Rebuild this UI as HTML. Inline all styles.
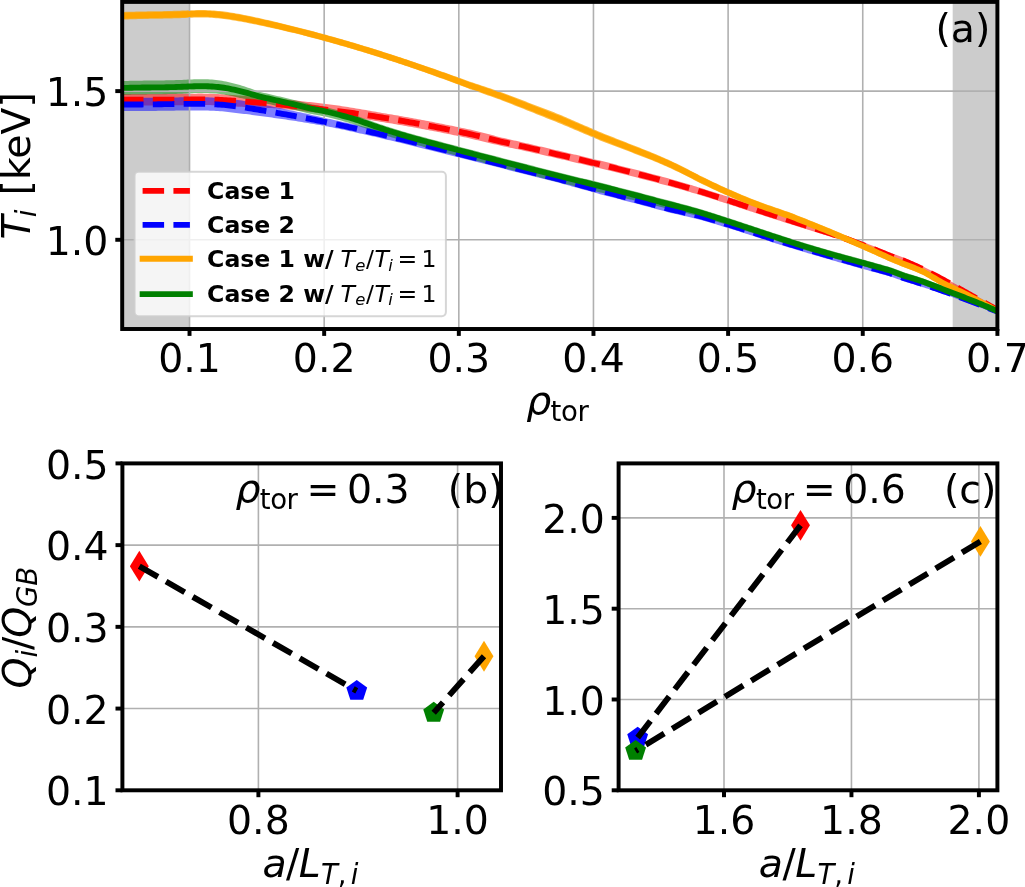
<!DOCTYPE html>
<html lang="en"><head><meta charset="utf-8"><title>figure</title>
<style>html,body{margin:0;padding:0;background:#fff;overflow:hidden}svg{display:block}</style></head>
<body>
<svg width="1025" height="887" viewBox="0 0 1025 887" font-family='"DejaVu Sans", "Liberation Sans", sans-serif' fill="#000">
<rect width="1025" height="887" fill="#fff"/>
<defs>
<clipPath id="ca"><rect x="122.2" y="1.9" width="875.2" height="327.1"/></clipPath>
<clipPath id="cb"><rect x="122.4" y="463.4" width="378.6" height="326.9"/></clipPath>
<clipPath id="cc"><rect x="618.6" y="463.4" width="378.8" height="326.9"/></clipPath>
</defs>
<rect x="122.2" y="1.9" width="67.32" height="327.1" fill="#808080" fill-opacity="0.4"/>
<rect x="952.7" y="1.9" width="44.7" height="327.1" fill="#808080" fill-opacity="0.4"/>
<g clip-path="url(#ca)">
<polygon points="122,93.9 124,93.9 126,93.9 128,93.9 130,93.91 132,93.91 134,93.91 136,93.91 138,93.91 140,93.91 142,93.91 144,93.91 146,93.91 148,93.91 150,93.9 152,93.9 154,93.9 156,93.89 158,93.89 160,93.88 162,93.88 164,93.87 166,93.86 168,93.85 170,93.84 172,93.83 174,93.82 176,93.81 178,93.79 180,93.78 182,93.76 184,93.74 186,93.73 188,93.71 190,93.69 192,93.66 194,93.64 196,93.63 198,93.62 200,93.61 202,93.61 204,93.63 206,93.66 208,93.7 210,93.75 212,93.82 214,93.89 216,93.98 218,94.08 220,94.18 222,94.29 224,94.41 226,94.54 228,94.67 230,94.81 232,94.95 234,95.09 236,95.24 238,95.38 240,95.53 242,95.68 244,95.84 246,95.99 248,96.15 250,96.31 252,96.47 254,96.64 256,96.8 258,96.97 260,97.14 262,97.31 264,97.49 266,97.66 268,97.84 270,98.02 272,98.21 274,98.39 276,98.58 278,98.77 280,98.96 282,99.15 284,99.35 286,99.55 288,99.75 290,99.95 292,100.16 294,100.37 296,100.58 298,100.79 300,101 302,101.22 304,101.44 306,101.66 308,101.89 310,102.11 312,102.34 314,102.58 316,102.81 318,103.05 320,103.29 322,103.53 324,103.78 326,104.02 328,104.27 330,104.52 332,104.78 334,105.04 336,105.3 338,105.56 340,105.83 342,106.14 344,106.45 346,106.77 348,107.09 350,107.41 352,107.73 354,108.06 356,108.39 358,108.72 360,109.06 362,109.39 364,109.74 366,110.08 368,110.43 370,110.78 372,111.13 374,111.48 376,111.84 378,112.2 380,112.57 382,112.89 384,113.22 386,113.55 388,113.88 390,114.22 392,114.56 394,114.9 396,115.25 398,115.59 400,115.94 402,116.29 404,116.65 406,117 408,117.36 410,117.73 412,118.09 414,118.46 416,118.83 418,119.2 420,119.57 422,119.95 424,120.33 426,120.71 428,121.09 430,121.47 432,121.86 434,122.25 436,122.64 438,123.04 440,123.43 442,123.83 444,124.23 446,124.64 448,125.04 450,125.45 452,125.86 454,126.27 456,126.68 458,127.09 460,127.51 462,127.93 464,128.35 466,128.77 468,129.2 470,129.62 472,130.1 474,130.59 476,131.07 478,131.56 480,132.05 482,132.55 484,133.06 486,133.57 488,134.08 490,134.59 492,135.11 494,135.62 496,136.14 498,136.66 500,137.18 502,137.64 504,138.09 506,138.55 508,139.01 510,139.47 512,139.94 514,140.4 516,140.87 518,141.33 520,141.8 522,142.25 524,142.71 526,143.16 528,143.62 530,144.08 532,144.54 534,145 536,145.46 538,145.92 540,146.39 542,146.85 544,147.32 546,147.78 548,148.25 550,148.72 552,149.19 554,149.66 556,150.14 558,150.61 560,151.08 562,151.55 564,152.02 566,152.49 568,152.96 570,153.43 572,153.91 574,154.38 576,154.85 578,155.33 580,155.8 582,156.28 584,156.76 586,157.23 588,157.71 590,158.19 592,158.67 594,159.15 596,159.63 598,160.11 600,160.59 602,161.1 604,161.6 606,162.1 608,162.61 610,163.11 612,163.61 614,164.12 616,164.62 618,165.13 620,165.64 622,166.15 624,166.66 626,167.17 628,167.68 630,168.19 632,168.71 634,169.22 636,169.74 638,170.26 640,170.78 642,171.3 644,171.83 646,172.36 648,172.89 650,173.42 652,173.96 654,174.49 656,175.03 658,175.58 660,176.12 662,176.67 664,177.22 666,177.77 668,178.33 670,178.89 672,179.46 674,180.02 676,180.59 678,181.17 680,181.75 682,182.33 684,182.91 686,183.5 688,184.1 690,184.69 692,185.3 694,185.9 696,186.51 698,187.13 700,187.75 702,188.37 704,189 706,189.63 708,190.27 710,190.91 712,191.55 714,192.2 716,192.85 718,193.5 720,194.15 722,194.81 724,195.46 726,196.12 728,196.78 730,197.44 732,198.11 734,198.77 736,199.43 738,200.1 740,200.76 742,201.42 744,202.09 746,202.75 748,203.41 750,204.07 752,204.73 754,205.39 756,206.05 758,206.7 760,207.36 762,208.01 764,208.66 766,209.32 768,209.97 770,210.62 772,211.27 774,211.92 776,212.57 778,213.21 780,213.86 782,214.51 784,215.16 786,215.81 788,216.46 790,217.11 792,217.75 794,218.4 796,219.05 798,219.69 800,220.34 802,220.98 804,221.63 806,222.27 808,222.92 810,223.56 812,224.21 814,224.85 816,225.49 818,226.14 820,226.78 822,227.43 824,228.07 826,228.72 828,229.37 830,230.02 832,230.67 834,231.32 836,232.01 838,232.72 840,233.44 842,234.17 844,234.89 846,235.62 848,236.36 850,237.09 852,237.84 854,238.58 856,239.33 858,240.09 860,240.85 862,241.62 864,242.37 866,243.12 868,243.88 870,244.65 872,245.43 874,246.21 876,246.99 878,247.79 880,248.59 882,249.4 884,250.22 886,251.05 888,251.89 890,252.73 892,253.43 894,254.14 896,254.86 898,255.58 900,256.32 902,257.08 904,257.85 906,258.67 908,259.54 910,260.43 912,261.32 914,262.23 916,263.15 918,264.08 920,265.02 922,265.98 924,266.95 926,267.95 928,268.98 930,270.03 932,271.08 934,272.15 936,273.23 938,274.31 940,275.4 942,276.5 944,277.61 946,278.72 948,279.84 950,280.96 952,282.09 954,283.22 956,284.36 958,285.49 960,286.63 962,287.77 964,288.91 966,290.05 968,291.19 970,292.33 972,293.46 974,294.59 976,295.72 978,296.85 980,297.97 982,299.09 984,300.22 986,301.35 988,302.48 990,303.63 992,304.79 994,305.96 996,307.16 997.4,308 997.4,312 996,311.18 994,310.03 992,308.89 990,307.77 988,306.67 986,305.57 984,304.49 982,303.4 980,302.32 978,301.24 976,300.16 974,299.07 972,297.98 970,296.88 968,295.79 966,294.69 964,293.59 962,292.49 960,291.39 958,290.3 956,289.2 954,288.11 952,287.02 950,285.93 948,284.85 946,283.77 944,282.7 942,281.64 940,280.58 938,279.53 936,278.48 934,277.45 932,276.42 930,275.41 928,274.41 926,273.41 924,272.45 922,271.52 920,270.61 918,269.71 916,268.82 914,267.94 912,267.07 910,266.22 908,265.38 906,264.55 904,263.77 902,263.04 900,262.32 898,261.6 896,260.89 894,260.19 892,259.5 890,258.82 888,257.99 886,257.17 884,256.36 882,255.55 880,254.76 878,253.97 876,253.19 874,252.42 872,251.66 870,250.9 868,250.15 866,249.41 864,248.67 862,247.94 860,247.19 858,246.44 856,245.7 854,244.97 852,244.24 850,243.51 848,242.79 846,242.07 844,241.36 842,240.65 840,239.94 838,239.24 836,238.54 834,237.87 832,237.23 830,236.6 828,235.97 826,235.34 824,234.71 822,234.08 820,233.45 818,232.82 816,232.19 814,231.57 812,230.94 810,230.31 808,229.68 806,229.06 804,228.43 802,227.8 800,227.17 798,226.54 796,225.91 794,225.28 792,224.65 790,224.02 788,223.39 786,222.76 784,222.13 782,221.49 780,220.86 778,220.22 776,219.58 774,218.94 772,218.3 770,217.66 768,217.02 766,216.38 764,215.73 762,215.09 760,214.44 758,213.8 756,213.15 754,212.5 752,211.85 750,211.2 748,210.55 746,209.9 744,209.24 742,208.59 740,207.93 738,207.28 736,206.62 734,205.97 732,205.31 730,204.66 728,204.01 726,203.35 724,202.7 722,202.06 720,201.41 718,200.76 716,200.12 714,199.48 712,198.84 710,198.21 708,197.58 706,196.95 704,196.33 702,195.71 700,195.09 698,194.48 696,193.87 694,193.27 692,192.67 690,192.08 688,191.49 686,190.91 684,190.32 682,189.75 680,189.17 678,188.6 676,188.04 674,187.48 672,186.92 670,186.36 668,185.81 666,185.26 664,184.72 662,184.17 660,183.63 658,183.1 656,182.56 654,182.03 652,181.5 650,180.98 648,180.45 646,179.93 644,179.41 642,178.9 640,178.38 638,177.87 636,177.35 634,176.84 632,176.33 630,175.82 628,175.32 626,174.81 624,174.31 622,173.81 620,173.31 618,172.8 616,172.3 614,171.81 612,171.31 610,170.81 608,170.31 606,169.82 604,169.32 602,168.82 600,168.33 598,167.85 596,167.38 594,166.9 592,166.43 590,165.96 588,165.49 586,165.01 584,164.54 582,164.07 580,163.6 578,163.13 576,162.67 574,162.2 572,161.73 570,161.27 568,160.8 566,160.34 564,159.87 562,159.41 560,158.95 558,158.48 556,158.02 554,157.55 552,157.09 550,156.62 548,156.16 546,155.7 544,155.24 542,154.78 540,154.32 538,153.86 536,153.41 534,152.95 532,152.5 530,152.05 528,151.59 526,151.14 524,150.7 522,150.25 520,149.8 518,149.37 516,148.95 514,148.52 512,148.1 510,147.67 508,147.25 506,146.83 504,146.41 502,146 500,145.58 498,145.1 496,144.62 494,144.14 492,143.67 490,143.19 488,142.72 486,142.25 484,141.78 482,141.31 480,140.85 478,140.36 476,139.88 474,139.4 472,138.93 470,138.45 468,138.03 466,137.61 464,137.2 462,136.78 460,136.37 458,135.96 456,135.55 454,135.14 452,134.74 450,134.34 448,133.94 446,133.54 444,133.14 442,132.75 440,132.35 438,131.96 436,131.58 434,131.19 432,130.81 430,130.42 428,130.05 426,129.67 424,129.29 422,128.92 420,128.55 418,128.18 416,127.82 414,127.45 412,127.09 410,126.74 408,126.38 406,126.03 404,125.68 402,125.33 400,124.98 398,124.64 396,124.3 394,123.96 392,123.62 390,123.29 388,122.96 386,122.63 384,122.31 382,121.99 380,121.67 378,121.33 376,121 374,120.67 372,120.35 370,120.03 368,119.71 366,119.39 364,119.08 362,118.76 360,118.46 358,118.15 356,117.85 354,117.55 352,117.25 350,116.96 348,116.67 346,116.38 344,116.09 342,115.81 340,115.53 338,115.26 336,115 334,114.75 332,114.49 330,114.24 328,113.99 326,113.74 324,113.5 322,113.26 320,113.02 318,112.78 316,112.54 314,112.31 312,112.08 310,111.86 308,111.63 306,111.41 304,111.19 302,110.97 300,110.76 298,110.55 296,110.34 294,110.13 292,109.92 290,109.72 288,109.52 286,109.32 284,109.13 282,108.93 280,108.74 278,108.55 276,108.37 274,108.22 272,108.12 270,108.02 268,107.92 266,107.82 264,107.73 262,107.64 260,107.55 258,107.46 256,107.38 254,107.29 252,107.21 250,107.13 248,107.06 246,106.98 244,106.91 242,106.84 240,106.77 238,106.63 236,106.49 234,106.35 232,106.21 230,106.08 228,105.95 226,105.82 224,105.7 222,105.59 220,105.48 218,105.38 216,105.29 214,105.21 212,105.14 210,105.08 208,105.03 206,105 204,104.98 202,104.97 200,104.97 198,104.98 196,105 194,105.02 192,105.05 190,105.08 188,105.1 186,105.13 184,105.15 182,105.18 180,105.2 178,105.22 176,105.24 174,105.26 172,105.28 170,105.29 168,105.31 166,105.33 164,105.34 162,105.35 160,105.37 158,105.38 156,105.39 154,105.4 152,105.41 150,105.42 148,105.43 146,105.43 144,105.44 142,105.45 140,105.46 138,105.46 136,105.47 134,105.47 132,105.48 130,105.48 128,105.49 126,105.49 124,105.49 122,105.5" fill="#ff0000" fill-opacity="0.5"/>
<polygon points="122,97.9 124,97.91 126,97.91 128,97.92 130,97.92 132,97.91 134,97.91 136,97.9 138,97.89 140,97.87 142,97.86 144,97.84 146,97.82 148,97.8 150,97.77 152,97.75 154,97.72 156,97.7 158,97.67 160,97.64 162,97.61 164,97.58 166,97.55 168,97.52 170,97.5 172,97.47 174,97.44 176,97.41 178,97.38 180,97.36 182,97.33 184,97.31 186,97.29 188,97.27 190,97.25 192,97.23 194,97.22 196,97.21 198,97.21 200,97.22 202,97.24 204,97.27 206,97.32 208,97.37 210,97.44 212,97.53 214,97.63 216,97.74 218,97.87 220,98.02 222,98.17 224,98.35 226,98.54 228,98.74 230,98.96 232,99.19 234,99.43 236,99.69 238,99.95 240,100.23 242,100.58 244,100.94 246,101.31 248,101.68 250,102.06 252,102.45 254,102.84 256,103.24 258,103.63 260,104.04 262,104.44 264,104.85 266,105.25 268,105.66 270,106.06 272,106.47 274,106.88 276,107.29 278,107.7 280,108.11 282,108.52 284,108.94 286,109.36 288,109.78 290,110.2 292,110.61 294,111.03 296,111.45 298,111.88 300,112.31 302,112.74 304,113.17 306,113.61 308,114.05 310,114.5 312,114.94 314,115.39 316,115.85 318,116.3 320,116.76 322,117.22 324,117.69 326,118.16 328,118.63 330,119.1 332,119.53 334,119.95 336,120.38 338,120.82 340,121.25 342,121.69 344,122.13 346,122.58 348,123.02 350,123.47 352,123.92 354,124.37 356,124.82 358,125.28 360,125.74 362,126.2 364,126.66 366,127.13 368,127.59 370,128.06 372,128.53 374,129.01 376,129.48 378,129.96 380,130.43 382,130.91 384,131.39 386,131.88 388,132.36 390,132.85 392,133.33 394,133.82 396,134.31 398,134.8 400,135.29 402,135.79 404,136.28 406,136.78 408,137.28 410,137.78 412,138.28 414,138.78 416,139.28 418,139.78 420,140.29 422,140.79 424,141.3 426,141.8 428,142.31 430,142.82 432,143.33 434,143.83 436,144.34 438,144.86 440,145.37 442,145.88 444,146.39 446,146.9 448,147.41 450,147.93 452,148.44 454,148.95 456,149.47 458,149.98 460,150.5 462,151.01 464,151.52 466,152.03 468,152.54 470,153.05 472,153.56 474,154.07 476,154.58 478,155.09 480,155.6 482,156.11 484,156.62 486,157.13 488,157.64 490,158.15 492,158.66 494,159.17 496,159.68 498,160.18 500,160.69 502,161.2 504,161.71 506,162.22 508,162.73 510,163.24 512,163.75 514,164.25 516,164.76 518,165.27 520,165.78 522,166.29 524,166.8 526,167.31 528,167.82 530,168.33 532,168.83 534,169.34 536,169.85 538,170.36 540,170.87 542,171.38 544,171.89 546,172.4 548,172.91 550,173.42 552,173.94 554,174.45 556,174.96 558,175.47 560,175.98 562,176.53 564,177.09 566,177.64 568,178.19 570,178.75 572,179.3 574,179.85 576,180.41 578,180.96 580,181.52 582,182.07 584,182.63 586,183.18 588,183.74 590,184.3 592,184.86 594,185.41 596,185.97 598,186.53 600,187.09 602,187.61 604,188.13 606,188.65 608,189.17 610,189.69 612,190.22 614,190.74 616,191.26 618,191.79 620,192.31 622,192.84 624,193.36 626,193.89 628,194.42 630,194.95 632,195.47 634,196 636,196.53 638,197.06 640,197.59 642,198.13 644,198.66 646,199.19 648,199.73 650,200.26 652,200.8 654,201.34 656,201.87 658,202.41 660,202.96 662,203.5 664,204.04 666,204.59 668,205.14 670,205.68 672,206.14 674,206.6 676,207.06 678,207.52 680,207.99 682,208.46 684,208.92 686,209.4 688,209.87 690,210.35 692,210.82 694,211.3 696,211.79 698,212.27 700,212.76 702,213.33 704,213.91 706,214.49 708,215.07 710,215.65 712,216.24 714,216.83 716,217.42 718,218.02 720,218.62 722,219.22 724,219.83 726,220.44 728,221.06 730,221.67 732,222.3 734,222.92 736,223.55 738,224.18 740,224.82 742,225.46 744,226.11 746,226.76 748,227.41 750,228.06 752,228.71 754,229.37 756,230.03 758,230.69 760,231.34 762,232 764,232.66 766,233.31 768,233.96 770,234.61 772,235.26 774,235.9 776,236.54 778,237.18 780,237.81 782,238.44 784,239.06 786,239.67 788,240.29 790,240.89 792,241.5 794,242.09 796,242.69 798,243.28 800,243.86 802,244.48 804,245.09 806,245.7 808,246.3 810,246.9 812,247.5 814,248.1 816,248.69 818,249.28 820,249.87 822,250.46 824,251.04 826,251.62 828,252.2 830,252.78 832,253.36 834,253.94 836,254.52 838,255.09 840,255.67 842,256.24 844,256.82 846,257.39 848,257.96 850,258.54 852,259.11 854,259.69 856,260.26 858,260.84 860,261.41 862,262 864,262.56 866,263.12 868,263.68 870,264.24 872,264.81 874,265.37 876,265.94 878,266.51 880,267.08 882,267.66 884,268.23 886,268.81 888,269.4 890,269.98 892,270.7 894,271.41 896,272.13 898,272.85 900,273.57 902,274.3 904,275.03 906,275.72 908,276.35 910,276.99 912,277.63 914,278.27 916,278.93 918,279.58 920,280.24 922,280.9 924,281.57 926,282.25 928,282.92 930,283.61 932,284.3 934,284.99 936,285.69 938,286.39 940,287.1 942,287.82 944,288.54 946,289.27 948,290 950,290.73 952,291.47 954,292.22 956,292.97 958,293.72 960,294.48 962,295.24 964,296 966,296.77 968,297.53 970,298.3 972,299.08 974,299.85 976,300.63 978,301.41 980,302.19 982,302.97 984,303.75 986,304.53 988,305.32 990,306.1 992,306.88 994,307.67 996,308.45 997.4,308.99 997.4,313.99 996,313.46 994,312.71 992,311.95 990,311.19 988,310.44 986,309.68 984,308.92 982,308.17 980,307.41 978,306.66 976,305.91 974,305.15 972,304.41 970,303.66 968,302.91 966,302.17 964,301.43 962,300.7 960,299.96 958,299.23 956,298.51 954,297.78 952,297.07 950,296.35 948,295.64 946,294.94 944,294.24 942,293.54 940,292.85 938,292.17 936,291.49 934,290.82 932,290.15 930,289.49 928,288.83 926,288.18 924,287.53 922,286.89 920,286.25 918,285.62 916,284.99 914,284.37 912,283.75 910,283.13 908,282.52 906,281.91 904,281.26 902,280.55 900,279.85 898,279.15 896,278.45 894,277.76 892,277.08 890,276.39 888,275.83 886,275.27 884,274.72 882,274.17 880,273.62 878,273.07 876,272.53 874,271.99 872,271.45 870,270.91 868,270.37 866,269.84 864,269.31 862,268.78 860,268.21 858,267.64 856,267.06 854,266.49 852,265.92 850,265.35 848,264.78 846,264.2 844,263.63 842,263.06 840,262.49 838,261.91 836,261.34 834,260.77 832,260.19 830,259.61 828,259.04 826,258.46 824,257.88 822,257.29 820,256.71 818,256.12 816,255.53 814,254.94 812,254.35 810,253.75 808,253.15 806,252.55 804,251.95 802,251.34 800,250.72 798,250.14 796,249.55 794,248.96 792,248.36 790,247.76 788,247.16 786,246.55 784,245.93 782,245.31 780,244.69 778,244.06 776,243.43 774,242.79 772,242.15 770,241.5 768,240.85 766,240.2 764,239.55 762,238.9 760,238.24 758,237.59 756,236.93 754,236.28 752,235.62 750,234.97 748,234.32 746,233.67 744,233.02 742,232.38 740,231.74 738,231.11 736,230.47 734,229.85 732,229.22 730,228.6 728,227.99 726,227.38 724,226.77 722,226.16 720,225.56 718,224.96 716,224.37 714,223.78 712,223.19 710,222.6 708,222.02 706,221.44 704,220.87 702,220.29 700,219.72 698,219.23 696,218.75 694,218.27 692,217.79 690,217.32 688,216.84 686,216.37 684,215.9 682,215.43 680,214.97 678,214.51 676,214.05 674,213.59 672,213.13 670,212.67 668,212.13 666,211.58 664,211.04 662,210.5 660,209.96 658,209.42 656,208.88 654,208.34 652,207.81 650,207.27 648,206.74 646,206.21 644,205.67 642,205.14 640,204.61 638,204.09 636,203.56 634,203.03 632,202.5 630,201.98 628,201.45 626,200.92 624,200.4 622,199.88 620,199.35 618,198.83 616,198.31 614,197.79 612,197.27 610,196.74 608,196.23 606,195.71 604,195.19 602,194.67 600,194.15 598,193.59 596,193.04 594,192.48 592,191.92 590,191.37 588,190.81 586,190.26 584,189.7 582,189.15 580,188.6 578,188.04 576,187.49 574,186.94 572,186.39 570,185.84 568,185.28 566,184.73 564,184.18 562,183.63 560,183.08 558,182.57 556,182.06 554,181.55 552,181.04 550,180.53 548,180.03 546,179.52 544,179.01 542,178.5 540,177.99 538,177.49 536,176.98 534,176.47 532,175.96 530,175.46 528,174.95 526,174.44 524,173.93 522,173.43 520,172.92 518,172.41 516,171.91 514,171.4 512,170.89 510,170.39 508,169.88 506,169.37 504,168.87 502,168.36 500,167.85 498,167.35 496,166.84 494,166.33 492,165.83 490,165.32 488,164.81 486,164.3 484,163.8 482,163.29 480,162.78 478,162.27 476,161.77 474,161.26 472,160.75 470,160.24 468,159.73 466,159.22 464,158.71 462,158.21 460,157.7 458,157.19 456,156.69 454,156.18 452,155.68 450,155.17 448,154.67 446,154.17 444,153.66 442,153.16 440,152.66 438,152.16 436,151.66 434,151.15 432,150.65 430,150.16 428,149.66 426,149.16 424,148.66 422,148.17 420,147.67 418,147.18 416,146.68 414,146.19 412,145.7 410,145.21 408,144.72 406,144.23 404,143.74 402,143.26 400,142.77 398,142.29 396,141.81 394,141.33 392,140.85 390,140.37 388,139.89 386,139.42 384,138.94 382,138.47 380,138 378,137.53 376,137.07 374,136.6 372,136.14 370,135.68 368,135.22 366,134.76 364,134.31 362,133.85 360,133.4 358,132.95 356,132.5 354,132.06 352,131.62 350,131.18 348,130.74 346,130.3 344,129.87 342,129.44 340,129.01 338,128.58 336,128.16 334,127.74 332,127.32 330,126.9 328,126.54 326,126.18 324,125.82 322,125.46 320,125.11 318,124.76 316,124.42 314,124.07 312,123.73 310,123.4 308,123.06 306,122.73 304,122.4 302,122.08 300,121.76 298,121.44 296,121.12 294,120.81 292,120.5 290,120.2 288,119.9 286,119.61 284,119.32 282,119.04 280,118.75 278,118.47 276,118.18 274,117.9 272,117.62 270,117.34 268,117.07 266,116.79 264,116.51 262,116.23 260,115.96 258,115.68 256,115.41 254,115.14 252,114.88 250,114.62 248,114.37 246,114.12 244,113.88 242,113.65 240,113.43 238,113.15 236,112.89 234,112.63 232,112.39 230,112.16 228,111.94 226,111.74 224,111.55 222,111.37 220,111.22 218,111.07 216,110.94 214,110.83 212,110.73 210,110.64 208,110.57 206,110.52 204,110.47 202,110.44 200,110.42 198,110.41 196,110.41 194,110.42 192,110.43 190,110.45 188,110.47 186,110.49 184,110.51 182,110.53 180,110.56 178,110.58 176,110.61 174,110.64 172,110.67 170,110.7 168,110.72 166,110.75 164,110.78 162,110.81 160,110.84 158,110.87 156,110.9 154,110.92 152,110.95 150,110.97 148,111 146,111.02 144,111.04 142,111.06 140,111.07 138,111.09 136,111.1 134,111.11 132,111.11 130,111.12 128,111.12 126,111.11 124,111.11 122,111.1" fill="#0000ff" fill-opacity="0.5"/>
<polygon points="122,12.02 124,11.94 126,11.87 128,11.8 130,11.74 132,11.68 134,11.63 136,11.58 138,11.54 140,11.49 142,11.46 144,11.42 146,11.39 148,11.35 150,11.32 152,11.29 154,11.26 156,11.23 158,11.2 160,11.16 162,11.13 164,11.09 166,11.05 168,11.01 170,10.96 172,10.91 174,10.85 176,10.79 178,10.73 180,10.66 182,10.58 184,10.5 186,10.42 188,10.34 190,10.26 192,10.19 194,10.13 196,10.08 198,10.04 200,10.02 202,10.03 204,10.05 206,10.1 208,10.17 210,10.27 212,10.39 214,10.53 216,10.7 218,10.89 220,11.09 222,11.32 224,11.57 226,11.83 228,12.11 230,12.4 232,12.72 234,13.04 236,13.38 238,13.73 240,14.09 242,14.48 244,14.88 246,15.28 248,15.69 250,16.11 252,16.54 254,16.97 256,17.41 258,17.85 260,18.3 262,18.75 264,19.2 266,19.66 268,20.12 270,20.58 272,21.05 274,21.52 276,22 278,22.48 280,22.96 282,23.45 284,23.93 286,24.43 288,24.92 290,25.43 292,25.93 294,26.44 296,26.95 298,27.46 300,27.98 302,28.49 304,29 306,29.51 308,30.03 310,30.55 312,31.08 314,31.61 316,32.14 318,32.67 320,33.21 322,33.76 324,34.3 326,34.85 328,35.4 330,35.96 332,36.51 334,37.08 336,37.64 338,38.21 340,38.78 342,39.35 344,39.93 346,40.51 348,41.1 350,41.68 352,42.27 354,42.87 356,43.46 358,44.06 360,44.67 362,45.27 364,45.88 366,46.49 368,47.11 370,47.72 372,48.35 374,48.97 376,49.6 378,50.22 380,50.86 382,51.49 384,52.13 386,52.77 388,53.42 390,54.06 392,54.71 394,55.37 396,56.02 398,56.68 400,57.34 402,58 404,58.67 406,59.34 408,60.01 410,60.69 412,61.36 414,62.04 416,62.73 418,63.41 420,64.1 422,64.77 424,65.45 426,66.13 428,66.81 430,67.5 432,68.18 434,68.87 436,69.56 438,70.26 440,70.96 442,71.66 444,72.36 446,73.06 448,73.77 450,74.48 452,75.19 454,75.91 456,76.62 458,77.34 460,78.06 462,78.79 464,79.51 466,80.24 468,80.97 470,81.7 472,82.36 474,83.01 476,83.67 478,84.33 480,85 482,85.66 484,86.33 486,87 488,87.67 490,88.34 492,89.01 494,89.69 496,90.36 498,91.04 500,91.72 502,92.48 504,93.23 506,93.99 508,94.75 510,95.51 512,96.27 514,97.04 516,97.8 518,98.56 520,99.33 522,100.09 524,100.86 526,101.62 528,102.39 530,103.16 532,103.92 534,104.69 536,105.46 538,106.23 540,106.99 542,107.76 544,108.53 546,109.3 548,110.06 550,110.83 552,111.6 554,112.36 556,113.13 558,113.89 560,114.66 562,115.53 564,116.41 566,117.28 568,118.16 570,119.03 572,119.9 574,120.78 576,121.65 578,122.52 580,123.39 582,124.26 584,125.13 586,126 588,126.87 590,127.74 592,128.61 594,129.48 596,130.35 598,131.22 600,132.09 602,132.87 604,133.66 606,134.45 608,135.24 610,136.03 612,136.82 614,137.61 616,138.4 618,139.18 620,139.97 622,140.76 624,141.55 626,142.34 628,143.13 630,143.92 632,144.71 634,145.5 636,146.29 638,147.08 640,147.87 642,148.66 644,149.45 646,150.24 648,151.03 650,151.83 652,152.66 654,153.49 656,154.33 658,155.17 660,156.03 662,156.9 664,157.78 666,158.67 668,159.58 670,160.5 672,161.43 674,162.39 676,163.35 678,164.33 680,165.32 682,166.32 684,167.33 686,168.35 688,169.37 690,170.41 692,171.44 694,172.49 696,173.53 698,174.58 700,175.63 702,176.6 704,177.58 706,178.55 708,179.52 710,180.48 712,181.45 714,182.4 716,183.35 718,184.28 720,185.21 722,186.13 724,187.03 726,187.92 728,188.8 730,189.66 732,190.56 734,191.45 736,192.33 738,193.19 740,194.04 742,194.89 744,195.72 746,196.54 748,197.35 750,198.16 752,198.95 754,199.74 756,200.53 758,201.31 760,202.08 762,202.79 764,203.49 766,204.18 768,204.88 770,205.57 772,206.26 774,206.96 776,207.65 778,208.34 780,209.04 782,209.74 784,210.44 786,211.14 788,211.85 790,212.55 792,213.33 794,214.12 796,214.9 798,215.69 800,216.48 802,217.28 804,218.07 806,218.87 808,219.67 810,220.47 812,221.27 814,222.08 816,222.89 818,223.7 820,224.51 822,225.32 824,226.14 826,226.96 828,227.78 830,228.6 832,229.44 834,230.29 836,231.14 838,231.99 840,232.84 842,233.69 844,234.55 846,235.4 848,236.26 850,237.12 852,237.99 854,238.85 856,239.71 858,240.58 860,241.45 862,242.32 864,243.21 866,244.1 868,245 870,245.89 872,246.79 874,247.69 876,248.59 878,249.49 880,250.39 882,251.29 884,252.2 886,253.11 888,254.01 890,254.92 892,255.76 894,256.61 896,257.44 898,258.26 900,259.08 902,259.89 904,260.69 906,261.48 908,262.27 910,263.05 912,263.83 914,264.63 916,265.44 918,266.29 920,267.18 922,268.12 924,269.11 926,270.17 928,271.28 930,272.45 932,273.64 934,274.85 936,276.06 938,277.24 940,278.4 942,279.51 944,280.57 946,281.6 948,282.6 950,283.58 952,284.55 954,285.51 956,286.48 958,287.45 960,288.43 962,289.42 964,290.43 966,291.45 968,292.49 970,293.53 972,294.58 974,295.65 976,296.72 978,297.8 980,298.89 982,299.98 984,301.08 986,302.18 988,303.28 990,304.37 992,305.47 994,306.55 996,307.63 997.4,308.38 997.4,313.38 996,312.65 994,311.6 992,310.55 990,309.49 988,308.43 986,307.36 984,306.29 982,305.23 980,304.17 978,303.11 976,302.06 974,301.03 972,300 970,298.97 968,297.96 966,296.97 964,295.98 962,295 960,294.04 958,293.09 956,292.15 954,291.22 952,290.29 950,289.36 948,288.41 946,287.44 944,286.44 942,285.41 940,284.34 938,283.22 936,282.06 934,280.89 932,279.71 930,278.55 928,277.42 926,276.34 924,275.31 922,274.35 920,273.45 918,272.6 916,271.78 914,271 912,270.23 910,269.48 908,268.73 906,267.98 904,267.23 902,266.46 900,265.68 898,264.87 896,264.05 894,263.23 892,262.39 890,261.55 888,260.65 886,259.75 884,258.85 882,257.95 880,257.06 878,256.16 876,255.27 874,254.37 872,253.48 870,252.59 868,251.7 866,250.82 864,249.93 862,249.05 860,248.18 858,247.32 856,246.46 854,245.6 852,244.75 850,243.89 848,243.04 846,242.18 844,241.33 842,240.48 840,239.64 838,238.79 836,237.95 834,237.11 832,236.27 830,235.43 828,234.62 826,233.8 824,232.99 822,232.18 820,231.38 818,230.57 816,229.77 814,228.97 812,228.17 810,227.37 808,226.57 806,225.78 804,224.99 802,224.2 800,223.42 798,222.63 796,221.85 794,221.07 792,220.29 790,219.52 788,218.82 786,218.12 784,217.42 782,216.73 780,216.04 778,215.35 776,214.66 774,213.98 772,213.29 770,212.61 768,211.92 766,211.23 764,210.54 762,209.85 760,209.15 758,208.38 756,207.61 754,206.83 752,206.05 750,205.26 748,204.46 746,203.65 744,202.84 742,202.01 740,201.18 738,200.33 736,199.47 734,198.61 732,197.72 730,196.83 728,195.97 726,195.1 724,194.22 722,193.32 720,192.41 718,191.5 716,190.58 714,189.64 712,188.71 710,187.76 708,186.81 706,185.85 704,184.9 702,183.94 700,182.98 698,181.94 696,180.91 694,179.88 692,178.85 690,177.83 688,176.81 686,175.8 684,174.8 682,173.8 680,172.82 678,171.84 676,170.88 674,169.93 672,168.99 670,168.07 668,167.17 666,166.28 664,165.4 662,164.53 660,163.68 658,162.84 656,162.01 654,161.18 652,160.37 650,159.56 648,158.77 646,157.99 644,157.22 642,156.45 640,155.67 638,154.91 636,154.14 634,153.38 632,152.61 630,151.84 628,151.08 626,150.32 624,149.55 622,148.79 620,148.02 618,147.26 616,146.5 614,145.73 612,144.97 610,144.2 608,143.44 606,142.68 604,141.91 602,141.15 600,140.39 598,139.54 596,138.7 594,137.85 592,137.01 590,136.17 588,135.32 586,134.48 584,133.63 582,132.79 580,131.94 578,131.09 576,130.25 574,129.4 572,128.55 570,127.71 568,126.86 566,126.01 564,125.16 562,124.31 560,123.46 558,122.66 556,121.87 554,121.07 552,120.28 550,119.48 548,118.68 546,117.89 544,117.09 542,116.29 540,115.49 538,114.7 536,113.9 534,113.1 532,112.3 530,111.51 528,110.71 526,109.91 524,109.12 522,108.32 520,107.53 518,106.73 516,105.94 514,105.15 512,104.35 510,103.56 508,102.77 506,101.98 504,101.19 502,100.41 500,99.62 498,98.91 496,98.2 494,97.5 492,96.79 490,96.09 488,95.39 486,94.69 484,93.99 482,93.29 480,92.6 478,91.9 476,91.21 474,90.51 472,89.82 470,89.14 468,88.37 466,87.61 464,86.85 462,86.09 460,85.33 458,84.57 456,83.82 454,83.07 452,82.32 450,81.58 448,80.84 446,80.1 444,79.36 442,78.62 440,77.89 438,77.16 436,76.43 434,75.71 432,74.98 430,74.26 428,73.54 426,72.83 424,72.12 422,71.41 420,70.7 418,70.01 416,69.33 414,68.64 412,67.96 410,67.29 408,66.61 406,65.94 404,65.27 402,64.6 400,63.94 398,63.28 396,62.62 394,61.97 392,61.31 390,60.66 388,60.02 386,59.37 384,58.73 382,58.09 380,57.46 378,56.82 376,56.2 374,55.57 372,54.95 370,54.32 368,53.71 366,53.09 364,52.48 362,51.87 360,51.27 358,50.66 356,50.06 354,49.47 352,48.87 350,48.28 348,47.7 346,47.11 344,46.53 342,45.95 340,45.38 338,44.81 336,44.24 334,43.68 332,43.11 330,42.56 328,42 326,41.45 324,40.9 322,40.36 320,39.81 318,39.27 316,38.74 314,38.21 312,37.68 310,37.15 308,36.63 306,36.11 304,35.6 302,35.09 300,34.58 298,34.09 296,33.6 294,33.12 292,32.64 290,32.16 288,31.68 286,31.21 284,30.75 282,30.29 280,29.83 278,29.37 276,28.92 274,28.47 272,28.02 270,27.58 268,27.15 266,26.71 264,26.28 262,25.86 260,25.43 258,25.01 256,24.6 254,24.19 252,23.78 250,23.38 248,22.99 246,22.6 244,22.22 242,21.85 240,21.49 238,21.13 236,20.79 234,20.45 232,20.13 230,19.82 228,19.53 226,19.25 224,18.99 222,18.75 220,18.53 218,18.32 216,18.14 214,17.98 212,17.84 210,17.72 208,17.62 206,17.55 204,17.51 202,17.49 200,17.49 198,17.51 196,17.55 194,17.61 192,17.67 190,17.74 188,17.82 186,17.91 184,17.99 182,18.08 180,18.16 178,18.23 176,18.3 174,18.37 172,18.42 170,18.48 168,18.53 166,18.58 164,18.62 162,18.66 160,18.7 158,18.74 156,18.77 154,18.81 152,18.84 150,18.87 148,18.91 146,18.95 144,18.98 142,19.02 140,19.06 138,19.11 136,19.16 134,19.21 132,19.26 130,19.32 128,19.39 126,19.46 124,19.54 122,19.62" fill="#ffa500" fill-opacity="0.75"/>
<polygon points="122,81.12 124,81.04 126,80.97 128,80.91 130,80.86 132,80.81 134,80.77 136,80.73 138,80.7 140,80.67 142,80.64 144,80.62 146,80.6 148,80.58 150,80.56 152,80.54 154,80.53 156,80.51 158,80.49 160,80.46 162,80.44 164,80.41 166,80.37 168,80.33 170,80.29 172,80.24 174,80.18 176,80.12 178,80.05 180,79.97 182,79.88 184,79.79 186,79.69 188,79.59 190,79.5 192,79.41 194,79.33 196,79.27 198,79.22 200,79.19 202,79.18 204,79.2 206,79.25 208,79.32 210,79.43 212,79.56 214,79.72 216,79.93 218,80.21 220,80.51 222,80.83 224,81.17 226,81.57 228,82.03 230,82.51 232,83 234,83.5 236,84.02 238,84.55 240,85.09 242,85.68 244,86.29 246,86.94 248,87.63 250,88.34 252,89.04 254,89.75 256,90.46 258,91.17 260,91.88 262,92.44 264,92.9 266,93.36 268,93.82 270,94.28 272,94.74 274,95.2 276,95.67 278,96.14 280,96.61 282,97.08 284,97.55 286,98.03 288,98.51 290,98.99 292,99.48 294,99.97 296,100.46 298,100.96 300,101.46 302,101.97 304,102.48 306,103 308,103.52 310,104.05 312,104.43 314,104.81 316,105.2 318,105.6 320,106 322,106.41 324,106.83 326,107.31 328,107.8 330,108.3 332,108.81 334,109.32 336,109.84 338,110.37 340,110.91 342,111.46 344,112.02 346,112.58 348,113.16 350,113.75 352,114.34 354,114.95 356,115.61 358,116.31 360,117.02 362,117.74 364,118.46 366,119.18 368,119.9 370,120.62 372,121.33 374,122.04 376,122.75 378,123.44 380,124.13 382,124.81 384,125.48 386,126.14 388,126.8 390,127.44 392,128.08 394,128.71 396,129.33 398,129.95 400,130.55 402,131.14 404,131.73 406,132.31 408,132.88 410,133.45 412,134.01 414,134.57 416,135.13 418,135.68 420,136.23 422,136.77 424,137.31 426,137.85 428,138.39 430,138.93 432,139.46 434,139.99 436,140.52 438,141.05 440,141.58 442,142.11 444,142.64 446,143.17 448,143.7 450,144.23 452,144.76 454,145.29 456,145.82 458,146.35 460,146.88 462,147.4 464,147.93 466,148.46 468,148.99 470,149.51 472,150.04 474,150.57 476,151.09 478,151.62 480,152.14 482,152.67 484,153.19 486,153.71 488,154.24 490,154.76 492,155.28 494,155.8 496,156.33 498,156.85 500,157.37 502,157.89 504,158.41 506,158.93 508,159.44 510,159.96 512,160.48 514,160.99 516,161.51 518,162.03 520,162.54 522,163.05 524,163.57 526,164.08 528,164.59 530,165.1 532,165.61 534,166.12 536,166.63 538,167.14 540,167.64 542,168.15 544,168.65 546,169.16 548,169.66 550,170.16 552,170.67 554,171.17 556,171.67 558,172.17 560,172.66 562,173.16 564,173.66 566,174.16 568,174.66 570,175.15 572,175.65 574,176.14 576,176.64 578,177.14 580,177.63 582,178.13 584,178.63 586,179.12 588,179.62 590,180.12 592,180.61 594,181.11 596,181.61 598,182.11 600,182.61 602,183.11 604,183.61 606,184.11 608,184.62 610,185.12 612,185.63 614,186.14 616,186.64 618,187.15 620,187.66 622,188.18 624,188.69 626,189.2 628,189.72 630,190.24 632,190.76 634,191.28 636,191.81 638,192.33 640,192.86 642,193.39 644,193.92 646,194.46 648,194.99 650,195.53 652,196.07 654,196.62 656,197.16 658,197.71 660,198.27 662,198.77 664,199.28 666,199.79 668,200.3 670,200.82 672,201.34 674,201.86 676,202.39 678,202.91 680,203.45 682,203.98 684,204.52 686,205.07 688,205.61 690,206.16 692,206.72 694,207.27 696,207.84 698,208.4 700,208.97 702,209.59 704,210.21 706,210.84 708,211.47 710,212.1 712,212.73 714,213.37 716,214.01 718,214.66 720,215.3 722,215.95 724,216.6 726,217.25 728,217.9 730,218.56 732,219.21 734,219.87 736,220.53 738,221.19 740,221.86 742,222.52 744,223.18 746,223.85 748,224.51 750,225.18 752,225.84 754,226.51 756,227.17 758,227.84 760,228.5 762,229.17 764,229.83 766,230.49 768,231.16 770,231.82 772,232.48 774,233.14 776,233.8 778,234.45 780,235.11 782,235.76 784,236.41 786,237.06 788,237.71 790,238.35 792,238.99 794,239.63 796,240.27 798,240.9 800,241.54 802,242.16 804,242.78 806,243.39 808,244.01 810,244.61 812,245.22 814,245.82 816,246.42 818,247.01 820,247.6 822,248.18 824,248.76 826,249.34 828,249.91 830,250.48 832,251.04 834,251.61 836,252.16 838,252.72 840,253.27 842,253.82 844,254.37 846,254.92 848,255.46 850,256 852,256.55 854,257.09 856,257.62 858,258.16 860,258.7 862,259.23 864,259.79 866,260.35 868,260.91 870,261.47 872,262.03 874,262.59 876,263.16 878,263.72 880,264.28 882,264.85 884,265.41 886,265.98 888,266.55 890,267.13 892,267.86 894,268.6 896,269.34 898,270.08 900,270.82 902,271.57 904,272.32 906,272.99 908,273.58 910,274.17 912,274.78 914,275.39 916,276.02 918,276.66 920,277.31 922,277.99 924,278.68 926,279.4 928,280.13 930,280.88 932,281.64 934,282.41 936,283.19 938,283.97 940,284.75 942,285.52 944,286.3 946,287.07 948,287.84 950,288.61 952,289.38 954,290.14 956,290.91 958,291.68 960,292.46 962,293.23 964,294.01 966,294.79 968,295.57 970,296.36 972,297.16 974,297.96 976,298.76 978,299.57 980,300.39 982,301.22 984,302.05 986,302.9 988,303.75 990,304.61 992,305.49 994,306.37 996,307.27 997.4,307.9 997.4,314.4 996,313.77 994,312.88 992,311.99 990,311.12 988,310.26 986,309.41 984,308.57 982,307.74 980,306.92 978,306.1 976,305.29 974,304.49 972,303.69 970,302.9 968,302.12 966,301.34 964,300.56 962,299.78 960,299.01 958,298.24 956,297.48 954,296.71 952,295.94 950,295.18 948,294.41 946,293.65 944,292.88 942,292.11 940,291.33 938,290.56 936,289.78 934,289.01 932,288.24 930,287.48 928,286.74 926,286.01 924,285.29 922,284.6 920,283.93 918,283.28 916,282.64 914,282.02 912,281.41 910,280.81 908,280.22 906,279.63 904,278.97 902,278.22 900,277.47 898,276.73 896,275.99 894,275.25 892,274.52 890,273.79 888,273.22 886,272.65 884,272.09 882,271.52 880,270.96 878,270.4 876,269.84 874,269.28 872,268.72 870,268.17 868,267.61 866,267.05 864,266.5 862,265.94 860,265.41 858,264.87 856,264.34 854,263.8 852,263.27 850,262.73 848,262.19 846,261.65 844,261.11 842,260.56 840,260.01 838,259.46 836,258.91 834,258.36 832,257.8 830,257.23 828,256.67 826,256.1 824,255.53 822,254.95 820,254.37 818,253.78 816,253.19 814,252.6 812,252 810,251.4 808,250.79 806,250.19 804,249.57 802,248.96 800,248.34 798,247.71 796,247.08 794,246.44 792,245.81 790,245.17 788,244.53 786,243.88 784,243.24 782,242.59 780,241.94 778,241.29 776,240.63 774,239.98 772,239.32 770,238.67 768,238.01 766,237.35 764,236.69 762,236.03 760,235.36 758,234.73 756,234.09 754,233.45 752,232.82 750,232.18 748,231.54 746,230.9 744,230.27 742,229.63 740,229 738,228.36 736,227.73 734,227.1 732,226.47 730,225.84 728,225.21 726,224.59 724,223.96 722,223.34 720,222.72 718,222.11 716,221.49 714,220.88 712,220.27 710,219.66 708,219.06 706,218.46 704,217.86 702,217.27 700,216.68 698,216.15 696,215.62 694,215.1 692,214.59 690,214.07 688,213.56 686,213.06 684,212.56 682,212.06 680,211.56 678,211.07 676,210.59 674,210.1 672,209.62 670,209.14 668,208.67 666,208.2 664,207.73 662,207.26 660,206.8 658,206.29 656,205.78 654,205.27 652,204.77 650,204.27 648,203.77 646,203.28 644,202.78 642,202.29 640,201.8 638,201.32 636,200.83 634,200.35 632,199.87 630,199.39 628,198.91 626,198.44 624,197.96 622,197.49 620,197.02 618,196.55 616,196.08 614,195.62 612,195.15 610,194.69 608,194.23 606,193.76 604,193.3 602,192.84 600,192.38 598,191.88 596,191.38 594,190.88 592,190.38 590,189.88 588,189.38 586,188.89 584,188.39 582,187.89 580,187.39 578,186.9 576,186.4 574,185.9 572,185.4 570,184.91 568,184.41 566,183.91 564,183.41 562,182.91 560,182.41 558,181.91 556,181.41 554,180.91 552,180.41 550,179.91 548,179.4 546,178.9 544,178.39 542,177.89 540,177.38 538,176.87 536,176.36 534,175.85 532,175.34 530,174.83 528,174.32 526,173.81 524,173.29 522,172.78 520,172.26 518,171.75 516,171.23 514,170.72 512,170.2 510,169.68 508,169.16 506,168.64 504,168.12 502,167.6 500,167.08 498,166.56 496,166.04 494,165.51 492,164.99 490,164.47 488,163.94 486,163.42 484,162.89 482,162.37 480,161.84 478,161.32 476,160.79 474,160.26 472,159.73 470,159.21 468,158.68 466,158.15 464,157.62 462,157.09 460,156.56 458,156.03 456,155.5 454,154.97 452,154.44 450,153.91 448,153.38 446,152.85 444,152.32 442,151.79 440,151.26 438,150.71 436,150.17 434,149.63 432,149.08 430,148.53 428,147.99 426,147.43 424,146.88 422,146.33 420,145.77 418,145.21 416,144.64 414,144.07 412,143.5 410,142.92 408,142.34 406,141.76 404,141.16 402,140.57 400,139.96 398,139.35 396,138.74 394,138.12 392,137.49 390,136.85 388,136.2 386,135.55 384,134.89 382,134.22 380,133.54 378,132.85 376,132.15 374,131.45 372,130.74 370,130.02 368,129.3 366,128.58 364,127.86 362,127.14 360,126.43 358,125.72 356,125.01 354,124.35 352,123.75 350,123.15 348,122.56 346,121.99 344,121.42 342,120.86 340,120.31 338,119.77 336,119.24 334,118.72 332,118.21 330,117.7 328,117.22 326,116.76 324,116.29 322,115.9 320,115.51 318,115.13 316,114.75 314,114.38 312,114.02 310,113.66 308,113.16 306,112.66 304,112.16 302,111.67 300,111.18 298,110.7 296,110.23 294,109.75 292,109.28 290,108.82 288,108.36 286,107.9 284,107.44 282,106.99 280,106.54 278,106.09 276,105.65 274,105.2 272,104.76 270,104.32 268,103.97 266,103.61 264,103.26 262,102.91 260,102.56 258,102.06 256,101.57 254,101.07 252,100.57 250,100.08 248,99.59 246,99.1 244,98.66 242,98.27 240,97.89 238,97.42 236,96.97 234,96.52 232,96.09 230,95.68 228,95.27 226,94.89 224,94.56 222,94.3 220,94.05 218,93.82 216,93.62 214,93.44 212,93.28 210,93.15 208,93.05 206,92.98 204,92.93 202,92.92 200,92.92 198,92.96 196,93.01 194,93.07 192,93.15 190,93.24 188,93.34 186,93.43 184,93.53 182,93.63 180,93.72 178,93.8 176,93.88 174,93.94 172,94 170,94.05 168,94.1 166,94.14 164,94.17 162,94.2 160,94.23 158,94.25 156,94.28 154,94.3 152,94.32 150,94.34 148,94.36 146,94.38 144,94.4 142,94.42 140,94.45 138,94.48 136,94.52 134,94.56 132,94.6 130,94.65 128,94.71 126,94.77 124,94.84 122,94.92" fill="#008000" fill-opacity="0.5"/>
</g>
<line x1="189.52" y1="1.9" x2="189.52" y2="329" stroke="#b0b0b0" stroke-width="1.6"/>
<line x1="324.17" y1="1.9" x2="324.17" y2="329" stroke="#b0b0b0" stroke-width="1.6"/>
<line x1="458.82" y1="1.9" x2="458.82" y2="329" stroke="#b0b0b0" stroke-width="1.6"/>
<line x1="593.46" y1="1.9" x2="593.46" y2="329" stroke="#b0b0b0" stroke-width="1.6"/>
<line x1="728.11" y1="1.9" x2="728.11" y2="329" stroke="#b0b0b0" stroke-width="1.6"/>
<line x1="862.75" y1="1.9" x2="862.75" y2="329" stroke="#b0b0b0" stroke-width="1.6"/>
<line x1="122.2" y1="239.79" x2="997.4" y2="239.79" stroke="#b0b0b0" stroke-width="1.6"/>
<line x1="122.2" y1="91.11" x2="997.4" y2="91.11" stroke="#b0b0b0" stroke-width="1.6"/>
<g clip-path="url(#ca)">
<polyline points="122,99.7 124,99.7 126,99.7 128,99.7 130,99.69 132,99.69 134,99.69 136,99.69 138,99.69 140,99.69 142,99.68 144,99.68 146,99.68 148,99.67 150,99.67 152,99.66 154,99.65 156,99.65 158,99.64 160,99.63 162,99.62 164,99.61 166,99.6 168,99.59 170,99.58 172,99.56 174,99.55 176,99.53 178,99.52 180,99.5 182,99.48 184,99.46 186,99.44 188,99.42 190,99.39 192,99.37 194,99.35 196,99.33 198,99.31 200,99.3 202,99.3 204,99.32 206,99.34 208,99.38 210,99.43 212,99.49 214,99.57 216,99.65 218,99.74 220,99.85 222,99.96 224,100.07 226,100.2 228,100.32 230,100.46 232,100.6 234,100.74 236,100.88 238,101.02 240,101.17 242,101.32 244,101.47 246,101.62 248,101.78 250,101.93 252,102.09 254,102.25 256,102.42 258,102.58 260,102.75 262,102.92 264,103.09 266,103.26 268,103.44 270,103.62 272,103.8 274,103.98 276,104.17 278,104.35 280,104.54 282,104.73 284,104.93 286,105.12 288,105.32 290,105.52 292,105.72 294,105.93 296,106.14 298,106.35 300,106.56 302,106.77 304,106.99 306,107.21 308,107.43 310,107.66 312,107.88 314,108.11 316,108.34 318,108.58 320,108.82 322,109.06 324,109.3 326,109.54 328,109.79 330,110.04 332,110.29 334,110.55 336,110.8 338,111.06 340,111.33 342,111.59 344,111.86 346,112.13 348,112.41 350,112.68 352,112.96 354,113.24 356,113.53 358,113.82 360,114.11 362,114.4 364,114.7 366,114.99 368,115.3 370,115.6 372,115.91 374,116.22 376,116.53 378,116.85 380,117.17 382,117.49 384,117.81 386,118.14 388,118.47 390,118.8 392,119.14 394,119.47 396,119.81 398,120.16 400,120.5 402,120.85 404,121.2 406,121.55 408,121.91 410,122.27 412,122.63 414,122.99 416,123.35 418,123.72 420,124.09 422,124.46 424,124.84 426,125.21 428,125.59 430,125.97 432,126.36 434,126.74 436,127.13 438,127.52 440,127.91 442,128.31 444,128.7 446,129.1 448,129.5 450,129.91 452,130.31 454,130.72 456,131.13 458,131.54 460,131.95 462,132.36 464,132.78 466,133.2 468,133.62 470,134.04 472,134.52 474,135 476,135.48 478,135.96 480,136.45 482,136.93 484,137.42 486,137.91 488,138.4 490,138.89 492,139.39 494,139.88 496,140.38 498,140.88 500,141.38 502,141.82 504,142.25 506,142.69 508,143.13 510,143.57 512,144.02 514,144.46 516,144.91 518,145.35 520,145.8 522,146.25 524,146.7 526,147.15 528,147.61 530,148.06 532,148.52 534,148.98 536,149.43 538,149.89 540,150.35 542,150.82 544,151.28 546,151.74 548,152.21 550,152.67 552,153.14 554,153.61 556,154.08 558,154.55 560,155.02 562,155.48 564,155.95 566,156.41 568,156.88 570,157.35 572,157.82 574,158.29 576,158.76 578,159.23 580,159.7 582,160.18 584,160.65 586,161.12 588,161.6 590,162.07 592,162.55 594,163.03 596,163.5 598,163.98 600,164.46 602,164.96 604,165.46 606,165.96 608,166.46 610,166.96 612,167.46 614,167.96 616,168.46 618,168.97 620,169.47 622,169.98 624,170.48 626,170.99 628,171.5 630,172.01 632,172.52 634,173.03 636,173.55 638,174.06 640,174.58 642,175.1 644,175.62 646,176.14 648,176.67 650,177.2 652,177.73 654,178.26 656,178.8 658,179.34 660,179.88 662,180.42 664,180.97 666,181.52 668,182.07 670,182.63 672,183.19 674,183.75 676,184.32 678,184.89 680,185.46 682,186.04 684,186.62 686,187.2 688,187.79 690,188.39 692,188.98 694,189.59 696,190.19 698,190.8 700,191.42 702,192.04 704,192.66 706,193.29 708,193.92 710,194.56 712,195.2 714,195.84 716,196.48 718,197.13 720,197.78 722,198.43 724,199.08 726,199.74 728,200.39 730,201.05 732,201.71 734,202.37 736,203.03 738,203.69 740,204.35 742,205.01 744,205.66 746,206.32 748,206.98 750,207.64 752,208.29 754,208.94 756,209.6 758,210.25 760,210.9 762,211.55 764,212.2 766,212.85 768,213.49 770,214.14 772,214.79 774,215.43 776,216.07 778,216.72 780,217.36 782,218 784,218.64 786,219.28 788,219.92 790,220.56 792,221.2 794,221.84 796,222.48 798,223.12 800,223.76 802,224.39 804,225.03 806,225.67 808,226.3 810,226.94 812,227.57 814,228.21 816,228.84 818,229.48 820,230.12 822,230.75 824,231.39 826,232.03 828,232.67 830,233.31 832,233.95 834,234.6 836,235.27 838,235.98 840,236.69 842,237.41 844,238.13 846,238.85 848,239.57 850,240.3 852,241.04 854,241.78 856,242.52 858,243.27 860,244.02 862,244.78 864,245.52 866,246.26 868,247.02 870,247.78 872,248.54 874,249.31 876,250.09 878,250.88 880,251.68 882,252.48 884,253.29 886,254.11 888,254.94 890,255.77 892,256.46 894,257.16 896,257.87 898,258.59 900,259.32 902,260.06 904,260.81 906,261.61 908,262.46 910,263.32 912,264.2 914,265.08 916,265.98 918,266.89 920,267.82 922,268.75 924,269.7 926,270.68 928,271.69 930,272.72 932,273.75 934,274.8 936,275.85 938,276.92 940,277.99 942,279.07 944,280.15 946,281.25 948,282.34 950,283.45 952,284.55 954,285.66 956,286.78 958,287.89 960,289.01 962,290.13 964,291.25 966,292.37 968,293.49 970,294.6 972,295.72 974,296.83 976,297.94 978,299.04 980,300.15 982,301.25 984,302.35 986,303.46 988,304.58 990,305.7 992,306.84 994,307.99 996,309.17 997.4,310" fill="none" stroke="#ff0000" stroke-width="5.85" stroke-linejoin="round" stroke-linecap="butt" stroke-dasharray="21.5 9.33"/>
<polyline points="122,104.5 124,104.51 126,104.51 128,104.52 130,104.52 132,104.51 134,104.51 136,104.5 138,104.49 140,104.47 142,104.46 144,104.44 146,104.42 148,104.4 150,104.37 152,104.35 154,104.32 156,104.3 158,104.27 160,104.24 162,104.21 164,104.18 166,104.15 168,104.12 170,104.1 172,104.07 174,104.04 176,104.01 178,103.98 180,103.96 182,103.93 184,103.91 186,103.89 188,103.87 190,103.85 192,103.83 194,103.82 196,103.81 198,103.81 200,103.82 202,103.84 204,103.87 206,103.92 208,103.97 210,104.04 212,104.13 214,104.23 216,104.34 218,104.47 220,104.62 222,104.77 224,104.95 226,105.14 228,105.34 230,105.56 232,105.79 234,106.03 236,106.29 238,106.55 240,106.83 242,107.12 244,107.41 246,107.71 248,108.02 250,108.34 252,108.66 254,108.99 256,109.32 258,109.66 260,110 262,110.34 264,110.68 266,111.02 268,111.36 270,111.7 272,112.05 274,112.39 276,112.74 278,113.08 280,113.43 282,113.78 284,114.13 286,114.48 288,114.84 290,115.2 292,115.56 294,115.92 296,116.29 298,116.66 300,117.03 302,117.41 304,117.79 306,118.17 308,118.56 310,118.95 312,119.34 314,119.73 316,120.13 318,120.53 320,120.94 322,121.34 324,121.75 326,122.17 328,122.58 330,123 332,123.42 334,123.84 336,124.27 338,124.7 340,125.13 342,125.56 344,126 346,126.44 348,126.88 350,127.32 352,127.77 354,128.21 356,128.66 358,129.12 360,129.57 362,130.03 364,130.48 366,130.94 368,131.41 370,131.87 372,132.34 374,132.8 376,133.27 378,133.74 380,134.22 382,134.69 384,135.17 386,135.65 388,136.13 390,136.61 392,137.09 394,137.57 396,138.06 398,138.55 400,139.03 402,139.52 404,140.01 406,140.51 408,141 410,141.49 412,141.99 414,142.48 416,142.98 418,143.48 420,143.98 422,144.48 424,144.98 426,145.48 428,145.98 430,146.49 432,146.99 434,147.49 436,148 438,148.51 440,149.01 442,149.52 444,150.03 446,150.53 448,151.04 450,151.55 452,152.06 454,152.57 456,153.08 458,153.59 460,154.1 462,154.61 464,155.12 466,155.63 468,156.14 470,156.65 472,157.15 474,157.66 476,158.17 478,158.68 480,159.19 482,159.7 484,160.21 486,160.72 488,161.23 490,161.73 492,162.24 494,162.75 496,163.26 498,163.77 500,164.27 502,164.78 504,165.29 506,165.8 508,166.3 510,166.81 512,167.32 514,167.83 516,168.34 518,168.84 520,169.35 522,169.86 524,170.37 526,170.87 528,171.38 530,171.89 532,172.4 534,172.91 536,173.42 538,173.92 540,174.43 542,174.94 544,175.45 546,175.96 548,176.47 550,176.98 552,177.49 554,178 556,178.51 558,179.02 560,179.53 562,180.08 564,180.63 566,181.19 568,181.74 570,182.29 572,182.84 574,183.4 576,183.95 578,184.5 580,185.06 582,185.61 584,186.17 586,186.72 588,187.28 590,187.83 592,188.39 594,188.95 596,189.5 598,190.06 600,190.62 602,191.14 604,191.66 606,192.18 608,192.7 610,193.22 612,193.74 614,194.26 616,194.79 618,195.31 620,195.83 622,196.36 624,196.88 626,197.41 628,197.93 630,198.46 632,198.99 634,199.52 636,200.04 638,200.57 640,201.1 642,201.64 644,202.17 646,202.7 648,203.23 650,203.77 652,204.3 654,204.84 656,205.38 658,205.92 660,206.46 662,207 664,207.54 666,208.09 668,208.63 670,209.18 672,209.64 674,210.09 676,210.55 678,211.02 680,211.48 682,211.94 684,212.41 686,212.88 688,213.36 690,213.83 692,214.31 694,214.79 696,215.27 698,215.75 700,216.24 702,216.81 704,217.39 706,217.96 708,218.54 710,219.13 712,219.71 714,220.3 716,220.9 718,221.49 720,222.09 722,222.69 724,223.3 726,223.91 728,224.52 730,225.14 732,225.76 734,226.38 736,227.01 738,227.65 740,228.28 742,228.92 744,229.57 746,230.21 748,230.86 750,231.52 752,232.17 754,232.82 756,233.48 758,234.14 760,234.79 762,235.45 764,236.1 766,236.76 768,237.41 770,238.06 772,238.7 774,239.35 776,239.99 778,240.62 780,241.25 782,241.88 784,242.5 786,243.11 788,243.72 790,244.33 792,244.93 794,245.53 796,246.12 798,246.71 800,247.29 802,247.91 804,248.52 806,249.12 808,249.73 810,250.33 812,250.93 814,251.52 816,252.11 818,252.7 820,253.29 822,253.88 824,254.46 826,255.04 828,255.62 830,256.2 832,256.78 834,257.35 836,257.93 838,258.5 840,259.08 842,259.65 844,260.22 846,260.8 848,261.37 850,261.94 852,262.52 854,263.09 856,263.66 858,264.24 860,264.81 862,265.39 864,265.93 866,266.48 868,267.03 870,267.58 872,268.13 874,268.68 876,269.23 878,269.79 880,270.35 882,270.91 884,271.48 886,272.04 888,272.61 890,273.19 892,273.89 894,274.59 896,275.29 898,276 900,276.71 902,277.43 904,278.14 906,278.81 908,279.43 910,280.06 912,280.69 914,281.32 916,281.96 918,282.6 920,283.25 922,283.9 924,284.55 926,285.21 928,285.88 930,286.55 932,287.22 934,287.9 936,288.59 938,289.28 940,289.98 942,290.68 944,291.39 946,292.1 948,292.82 950,293.54 952,294.27 954,295 956,295.74 958,296.48 960,297.22 962,297.97 964,298.72 966,299.47 968,300.22 970,300.98 972,301.74 974,302.5 976,303.27 978,304.03 980,304.8 982,305.57 984,306.34 986,307.11 988,307.88 990,308.65 992,309.42 994,310.19 996,310.96 997.4,311.49" fill="none" stroke="#0000ff" stroke-width="5.85" stroke-linejoin="round" stroke-linecap="butt" stroke-dasharray="21.5 9.33"/>
<polyline points="122,15.82 124,15.74 126,15.66 128,15.59 130,15.53 132,15.47 134,15.42 136,15.37 138,15.32 140,15.28 142,15.24 144,15.2 146,15.17 148,15.13 150,15.1 152,15.07 154,15.03 156,15 158,14.97 160,14.93 162,14.89 164,14.85 166,14.81 168,14.77 170,14.72 172,14.67 174,14.61 176,14.55 178,14.48 180,14.41 182,14.33 184,14.25 186,14.16 188,14.08 190,14 192,13.93 194,13.87 196,13.82 198,13.78 200,13.76 202,13.76 204,13.78 206,13.83 208,13.9 210,13.99 212,14.11 214,14.25 216,14.42 218,14.6 220,14.81 222,15.03 224,15.28 226,15.54 228,15.82 230,16.11 232,16.42 234,16.75 236,17.08 238,17.43 240,17.79 242,18.17 244,18.55 246,18.94 248,19.34 250,19.75 252,20.16 254,20.58 256,21.01 258,21.43 260,21.87 262,22.3 264,22.74 266,23.19 268,23.63 270,24.08 272,24.54 274,25 276,25.46 278,25.92 280,26.39 282,26.87 284,27.34 286,27.82 288,28.3 290,28.79 292,29.28 294,29.78 296,30.27 298,30.78 300,31.28 302,31.79 304,32.3 306,32.81 308,33.33 310,33.85 312,34.38 314,34.91 316,35.44 318,35.97 320,36.51 322,37.06 324,37.6 326,38.15 328,38.7 330,39.26 332,39.81 334,40.38 336,40.94 338,41.51 340,42.08 342,42.65 344,43.23 346,43.81 348,44.4 350,44.98 352,45.57 354,46.17 356,46.76 358,47.36 360,47.97 362,48.57 364,49.18 366,49.79 368,50.41 370,51.02 372,51.65 374,52.27 376,52.9 378,53.52 380,54.16 382,54.79 384,55.43 386,56.07 388,56.72 390,57.36 392,58.01 394,58.67 396,59.32 398,59.98 400,60.64 402,61.3 404,61.97 406,62.64 408,63.31 410,63.99 412,64.66 414,65.34 416,66.03 418,66.71 420,67.4 422,68.09 424,68.78 426,69.48 428,70.18 430,70.88 432,71.58 434,72.29 436,73 438,73.71 440,74.42 442,75.14 444,75.86 446,76.58 448,77.3 450,78.03 452,78.76 454,79.49 456,80.22 458,80.96 460,81.7 462,82.44 464,83.18 466,83.92 468,84.67 470,85.42 472,86.09 474,86.76 476,87.44 478,88.12 480,88.8 482,89.48 484,90.16 486,90.84 488,91.53 490,92.21 492,92.9 494,93.59 496,94.28 498,94.98 500,95.67 502,96.44 504,97.21 506,97.99 508,98.76 510,99.54 512,100.31 514,101.09 516,101.87 518,102.65 520,103.43 522,104.21 524,104.99 526,105.77 528,106.55 530,107.33 532,108.11 534,108.9 536,109.68 538,110.46 540,111.24 542,112.03 544,112.81 546,113.59 548,114.37 550,115.16 552,115.94 554,116.72 556,117.5 558,118.28 560,119.06 562,119.92 564,120.78 566,121.65 568,122.51 570,123.37 572,124.23 574,125.09 576,125.95 578,126.81 580,127.66 582,128.52 584,129.38 586,130.24 588,131.1 590,131.95 592,132.81 594,133.67 596,134.52 598,135.38 600,136.24 602,137.01 604,137.79 606,138.56 608,139.34 610,140.12 612,140.89 614,141.67 616,142.45 618,143.22 620,144 622,144.77 624,145.55 626,146.33 628,147.1 630,147.88 632,148.66 634,149.44 636,150.22 638,150.99 640,151.77 642,152.55 644,153.33 646,154.12 648,154.9 650,155.7 652,156.51 654,157.34 656,158.17 658,159.01 660,159.86 662,160.72 664,161.59 666,162.47 668,163.37 670,164.28 672,165.21 674,166.16 676,167.12 678,168.09 680,169.07 682,170.06 684,171.06 686,172.07 688,173.09 690,174.12 692,175.15 694,176.18 696,177.22 698,178.26 700,179.3 702,180.27 704,181.24 706,182.2 708,183.16 710,184.12 712,185.08 714,186.02 716,186.96 718,187.89 720,188.81 722,189.72 724,190.62 726,191.51 728,192.39 730,193.24 732,194.14 734,195.03 736,195.9 738,196.76 740,197.61 742,198.45 744,199.28 746,200.1 748,200.9 750,201.71 752,202.5 754,203.29 756,204.07 758,204.85 760,205.62 762,206.32 764,207.01 766,207.71 768,208.4 770,209.09 772,209.78 774,210.47 776,211.16 778,211.85 780,212.54 782,213.23 784,213.93 786,214.63 788,215.33 790,216.04 792,216.81 794,217.59 796,218.38 798,219.16 800,219.95 802,220.74 804,221.53 806,222.32 808,223.12 810,223.92 812,224.72 814,225.52 816,226.33 818,227.13 820,227.94 822,228.75 824,229.57 826,230.38 828,231.2 830,232.02 832,232.86 834,233.7 836,234.54 838,235.39 840,236.24 842,237.09 844,237.94 846,238.79 848,239.65 850,240.51 852,241.37 854,242.23 856,243.09 858,243.95 860,244.82 862,245.69 864,246.57 866,247.46 868,248.35 870,249.24 872,250.14 874,251.03 876,251.93 878,252.82 880,253.72 882,254.62 884,255.53 886,256.43 888,257.33 890,258.24 892,259.08 894,259.92 896,260.75 898,261.57 900,262.38 902,263.18 904,263.96 906,264.73 908,265.5 910,266.26 912,267.03 914,267.81 916,268.61 918,269.44 920,270.32 922,271.24 924,272.21 926,273.25 928,274.35 930,275.5 932,276.68 934,277.87 936,279.06 938,280.23 940,281.37 942,282.46 944,283.51 946,284.52 948,285.51 950,286.47 952,287.42 954,288.37 956,289.31 958,290.27 960,291.23 962,292.21 964,293.21 966,294.21 968,295.23 970,296.25 972,297.29 974,298.34 976,299.39 978,300.46 980,301.53 982,302.61 984,303.69 986,304.77 988,305.85 990,306.93 992,308.01 994,309.08 996,310.14 997.4,310.88" fill="none" stroke="#ffa500" stroke-width="5.85" stroke-linejoin="round" stroke-linecap="square"/>
<polyline points="122,88.02 124,87.94 126,87.87 128,87.81 130,87.76 132,87.71 134,87.67 136,87.63 138,87.6 140,87.57 142,87.54 144,87.52 146,87.5 148,87.48 150,87.46 152,87.44 154,87.43 156,87.41 158,87.39 160,87.36 162,87.34 164,87.31 166,87.27 168,87.23 170,87.19 172,87.14 174,87.08 176,87.02 178,86.95 180,86.87 182,86.78 184,86.69 186,86.59 188,86.49 190,86.4 192,86.31 194,86.23 196,86.17 198,86.12 200,86.09 202,86.08 204,86.1 206,86.15 208,86.22 210,86.33 212,86.46 214,86.62 216,86.8 218,87 220,87.23 222,87.48 224,87.75 226,88.08 228,88.46 230,88.87 232,89.28 234,89.72 236,90.16 238,90.62 240,91.09 242,91.56 244,92.05 246,92.58 248,93.16 250,93.75 252,94.33 254,94.92 256,95.51 258,96.1 260,96.7 262,97.14 264,97.58 266,98.03 268,98.47 270,98.92 272,99.37 274,99.82 276,100.27 278,100.72 280,101.17 282,101.63 284,102.09 286,102.55 288,103.02 290,103.49 292,103.96 294,104.43 296,104.91 298,105.4 300,105.88 302,106.38 304,106.87 306,107.38 308,107.88 310,108.4 312,108.76 314,109.13 316,109.51 318,109.89 320,110.28 322,110.67 324,111.07 326,111.54 328,112.02 330,112.5 332,112.99 334,113.49 336,114 338,114.52 340,115.04 342,115.57 344,116.12 346,116.67 348,117.23 350,117.8 352,118.39 354,118.98 356,119.62 358,120.31 360,121.01 362,121.71 364,122.42 366,123.12 368,123.83 370,124.53 372,125.23 374,125.93 376,126.62 378,127.3 380,127.98 382,128.64 384,129.3 386,129.94 388,130.58 390,131.21 392,131.83 394,132.45 396,133.06 398,133.66 400,134.25 402,134.84 404,135.43 406,136 408,136.58 410,137.14 412,137.71 414,138.26 416,138.82 418,139.37 420,139.91 422,140.46 424,141 426,141.54 428,142.07 430,142.61 432,143.14 434,143.67 436,144.2 438,144.73 440,145.26 442,145.79 444,146.32 446,146.84 448,147.37 450,147.9 452,148.43 454,148.96 456,149.48 458,150.01 460,150.54 462,151.06 464,151.59 466,152.12 468,152.64 470,153.17 472,153.69 474,154.22 476,154.74 478,155.27 480,155.79 482,156.31 484,156.84 486,157.36 488,157.88 490,158.4 492,158.93 494,159.45 496,159.97 498,160.49 500,161.01 502,161.52 504,162.04 506,162.56 508,163.08 510,163.59 512,164.11 514,164.62 516,165.14 518,165.65 520,166.16 522,166.68 524,167.19 526,167.7 528,168.21 530,168.72 532,169.23 534,169.74 536,170.24 538,170.75 540,171.26 542,171.76 544,172.26 546,172.77 548,173.27 550,173.77 552,174.27 554,174.77 556,175.27 558,175.77 560,176.26 562,176.76 564,177.26 566,177.75 568,178.25 570,178.74 572,179.24 574,179.73 576,180.23 578,180.72 580,181.22 582,181.71 584,182.21 586,182.7 588,183.2 590,183.7 592,184.19 594,184.69 596,185.19 598,185.68 600,186.18 602,186.68 604,187.18 606,187.68 608,188.19 610,188.69 612,189.19 614,189.7 616,190.2 618,190.71 620,191.22 622,191.73 624,192.24 626,192.76 628,193.27 630,193.79 632,194.31 634,194.83 636,195.35 638,195.88 640,196.4 642,196.93 644,197.46 646,198 648,198.53 650,199.07 652,199.61 654,200.15 656,200.7 658,201.25 660,201.8 662,202.3 664,202.81 666,203.32 668,203.83 670,204.34 672,204.86 674,205.38 676,205.91 678,206.43 680,206.96 682,207.5 684,208.04 686,208.58 688,209.12 690,209.67 692,210.23 694,210.78 696,211.34 698,211.91 700,212.48 702,213.09 704,213.71 706,214.34 708,214.97 710,215.6 712,216.23 714,216.87 716,217.51 718,218.15 720,218.79 722,219.44 724,220.08 726,220.74 728,221.39 730,222.04 732,222.7 734,223.35 736,224.01 738,224.67 740,225.33 742,225.99 744,226.66 746,227.32 748,227.98 750,228.64 752,229.31 754,229.97 756,230.64 758,231.3 760,231.96 762,232.63 764,233.29 766,233.95 768,234.61 770,235.27 772,235.93 774,236.59 776,237.25 778,237.9 780,238.56 782,239.21 784,239.86 786,240.5 788,241.15 790,241.79 792,242.43 794,243.07 796,243.71 798,244.34 800,244.97 802,245.59 804,246.21 806,246.82 808,247.44 810,248.04 812,248.65 814,249.25 816,249.84 818,250.43 820,251.02 822,251.6 824,252.18 826,252.76 828,253.33 830,253.89 832,254.46 834,255.02 836,255.58 838,256.13 840,256.68 842,257.23 844,257.78 846,258.32 848,258.86 850,259.41 852,259.95 854,260.48 856,261.02 858,261.56 860,262.09 862,262.63 864,263.19 866,263.74 868,264.3 870,264.86 872,265.42 874,265.98 876,266.54 878,267.1 880,267.66 882,268.23 884,268.79 886,269.36 888,269.93 890,270.5 892,271.23 894,271.97 896,272.71 898,273.45 900,274.19 902,274.94 904,275.69 906,276.36 908,276.94 910,277.53 912,278.14 914,278.75 916,279.37 918,280.01 920,280.67 922,281.34 924,282.03 926,282.75 928,283.48 930,284.23 932,284.99 934,285.76 936,286.53 938,287.31 940,288.09 942,288.86 944,289.63 946,290.4 948,291.17 950,291.94 952,292.71 954,293.47 956,294.24 958,295.01 960,295.78 962,296.55 964,297.33 966,298.11 968,298.89 970,299.68 972,300.47 974,301.27 976,302.08 978,302.89 980,303.7 982,304.53 984,305.36 986,306.21 988,307.06 990,307.92 992,308.79 994,309.67 996,310.57 997.4,311.2" fill="none" stroke="#008000" stroke-width="5.85" stroke-linejoin="round" stroke-linecap="square"/>
</g>
<rect x="134.6" y="171.8" width="311.3" height="144.4" rx="4.1" ry="4.1" fill="#fff" fill-opacity="0.8" stroke="#cccccc" stroke-opacity="0.8" stroke-width="2"/>
<line x1="142.6" y1="190.9" x2="189.9" y2="190.9" stroke="#ff0000" stroke-width="5.85" stroke-dasharray="21.5 9.33"/>
<text x="207.1" y="199" font-size="23.6" text-anchor="start" font-weight="bold">Case 1</text>
<line x1="142.6" y1="224.8" x2="189.9" y2="224.8" stroke="#0000ff" stroke-width="5.85" stroke-dasharray="21.5 9.33"/>
<text x="207.1" y="233.3" font-size="23.6" text-anchor="start" font-weight="bold">Case 2</text>
<line x1="142.6" y1="258.8" x2="189.9" y2="258.8" stroke="#ffa500" stroke-width="5.85" stroke-linecap="square"/>
<text x="207.1" y="267.2" font-size="23.6" text-anchor="start" font-weight="bold">Case 1 w/</text>
<text x="340.6" y="267.2" font-size="23.6" text-anchor="start" font-style="italic">T</text>
<text x="355.2" y="270.8" font-size="16.52" text-anchor="start" font-style="italic">e</text>
<text x="366" y="267.2" font-size="23.6" text-anchor="start">/</text>
<text x="374.6" y="267.2" font-size="23.6" text-anchor="start" font-style="italic">T</text>
<text x="388.2" y="270.8" font-size="16.52" text-anchor="start" font-style="italic">i</text>
<text x="397.4" y="267.2" font-size="23.6" text-anchor="start">=</text>
<text x="421.6" y="267.2" font-size="23.6" text-anchor="start">1</text>
<line x1="142.6" y1="294.1" x2="189.9" y2="294.1" stroke="#008000" stroke-width="5.85" stroke-linecap="square"/>
<text x="207.1" y="301.6" font-size="23.6" text-anchor="start" font-weight="bold">Case 2 w/</text>
<text x="340.6" y="301.6" font-size="23.6" text-anchor="start" font-style="italic">T</text>
<text x="355.2" y="305.2" font-size="16.52" text-anchor="start" font-style="italic">e</text>
<text x="366" y="301.6" font-size="23.6" text-anchor="start">/</text>
<text x="374.6" y="301.6" font-size="23.6" text-anchor="start" font-style="italic">T</text>
<text x="388.2" y="305.2" font-size="16.52" text-anchor="start" font-style="italic">i</text>
<text x="397.4" y="301.6" font-size="23.6" text-anchor="start">=</text>
<text x="421.6" y="301.6" font-size="23.6" text-anchor="start">1</text>
<rect x="122.2" y="1.9" width="875.2" height="327.1" fill="none" stroke="#000" stroke-width="3.95"/>
<line x1="189.52" y1="329" x2="189.52" y2="335.9" stroke="#000" stroke-width="3.95"/>
<text x="189.52" y="372.3" font-size="39.4" text-anchor="middle">0.1</text>
<line x1="324.17" y1="329" x2="324.17" y2="335.9" stroke="#000" stroke-width="3.95"/>
<text x="324.17" y="372.3" font-size="39.4" text-anchor="middle">0.2</text>
<line x1="458.82" y1="329" x2="458.82" y2="335.9" stroke="#000" stroke-width="3.95"/>
<text x="458.82" y="372.3" font-size="39.4" text-anchor="middle">0.3</text>
<line x1="593.46" y1="329" x2="593.46" y2="335.9" stroke="#000" stroke-width="3.95"/>
<text x="593.46" y="372.3" font-size="39.4" text-anchor="middle">0.4</text>
<line x1="728.11" y1="329" x2="728.11" y2="335.9" stroke="#000" stroke-width="3.95"/>
<text x="728.11" y="372.3" font-size="39.4" text-anchor="middle">0.5</text>
<line x1="862.75" y1="329" x2="862.75" y2="335.9" stroke="#000" stroke-width="3.95"/>
<text x="862.75" y="372.3" font-size="39.4" text-anchor="middle">0.6</text>
<line x1="997.4" y1="329" x2="997.4" y2="335.9" stroke="#000" stroke-width="3.95"/>
<text x="997.4" y="372.3" font-size="39.4" text-anchor="middle">0.7</text>
<line x1="115.3" y1="239.79" x2="122.2" y2="239.79" stroke="#000" stroke-width="3.95"/>
<text x="108.4" y="254.89" font-size="39.4" text-anchor="end">1.0</text>
<line x1="115.3" y1="91.11" x2="122.2" y2="91.11" stroke="#000" stroke-width="3.95"/>
<text x="108.4" y="106.21" font-size="39.4" text-anchor="end">1.5</text>
<text x="935.5" y="41.7" font-size="39.4" text-anchor="start">(a)</text>
<text x="526.2" y="414.2" font-size="39.4" text-anchor="start" font-style="italic">ρ</text>
<text x="550.6" y="420.9" font-size="27.6" text-anchor="start" letter-spacing="-0.45">tor</text>
<g transform="translate(29.7 239.6) rotate(-90)">
<text x="0" y="0" font-size="39.4" text-anchor="start" font-style="italic">T</text>
<text x="22.4" y="6.2" font-size="27.6" text-anchor="start" font-style="italic">i</text>
<text x="44.2" y="0" font-size="39.4" text-anchor="start">[keV]</text>
</g>
<line x1="258.4" y1="463.4" x2="258.4" y2="790.3" stroke="#b0b0b0" stroke-width="1.6"/>
<line x1="457.6" y1="463.4" x2="457.6" y2="790.3" stroke="#b0b0b0" stroke-width="1.6"/>
<line x1="122.4" y1="708.57" x2="501" y2="708.57" stroke="#b0b0b0" stroke-width="1.6"/>
<line x1="122.4" y1="626.85" x2="501" y2="626.85" stroke="#b0b0b0" stroke-width="1.6"/>
<line x1="122.4" y1="545.12" x2="501" y2="545.12" stroke="#b0b0b0" stroke-width="1.6"/>
<g clip-path="url(#cb)">
<polygon points="139.3,550.8 148.75,566.2 139.3,581.6 129.85,566.2" fill="#ff0000"/>
<polygon points="356.75,679.95 346.34,687.52 350.31,699.76 363.19,699.76 367.16,687.52" fill="#0000ff"/>
<line x1="139.3" y1="566.2" x2="356.75" y2="690.9" stroke="#000" stroke-width="5.85" stroke-dasharray="21.5 9.33"/>
<polygon points="484,640.85 493.45,656.25 484,671.65 474.55,656.25" fill="#ffa500"/>
<polygon points="433.7,701.85 423.29,709.42 427.26,721.66 440.14,721.66 444.11,709.42" fill="#008000"/>
<line x1="484" y1="656.25" x2="433.7" y2="712.8" stroke="#000" stroke-width="5.85" stroke-dasharray="21.5 9.33"/>
</g>
<rect x="122.4" y="463.4" width="378.6" height="326.9" fill="none" stroke="#000" stroke-width="3.95"/>
<line x1="258.4" y1="790.3" x2="258.4" y2="797.2" stroke="#000" stroke-width="3.95"/>
<text x="258.4" y="833.6" font-size="39.4" text-anchor="middle">0.8</text>
<line x1="457.6" y1="790.3" x2="457.6" y2="797.2" stroke="#000" stroke-width="3.95"/>
<text x="457.6" y="833.6" font-size="39.4" text-anchor="middle">1.0</text>
<line x1="115.5" y1="790.3" x2="122.4" y2="790.3" stroke="#000" stroke-width="3.95"/>
<text x="108.6" y="805.4" font-size="39.4" text-anchor="end">0.1</text>
<line x1="115.5" y1="708.57" x2="122.4" y2="708.57" stroke="#000" stroke-width="3.95"/>
<text x="108.6" y="723.67" font-size="39.4" text-anchor="end">0.2</text>
<line x1="115.5" y1="626.85" x2="122.4" y2="626.85" stroke="#000" stroke-width="3.95"/>
<text x="108.6" y="641.95" font-size="39.4" text-anchor="end">0.3</text>
<line x1="115.5" y1="545.12" x2="122.4" y2="545.12" stroke="#000" stroke-width="3.95"/>
<text x="108.6" y="560.23" font-size="39.4" text-anchor="end">0.4</text>
<line x1="115.5" y1="463.4" x2="122.4" y2="463.4" stroke="#000" stroke-width="3.95"/>
<text x="108.6" y="478.5" font-size="39.4" text-anchor="end">0.5</text>
<text x="235.4" y="502.4" font-size="39.4" text-anchor="start" font-style="italic">ρ</text>
<text x="259.8" y="509.1" font-size="27.6" text-anchor="start" letter-spacing="-0.45">tor</text>
<text x="306.6" y="502.6" font-size="39.4" text-anchor="start">=</text>
<text x="347" y="502.6" font-size="39.4" text-anchor="start">0.3</text>
<text x="447.8" y="502.6" font-size="39.4" text-anchor="start">(b)</text>
<text x="262.4" y="877.4" font-size="39.4" text-anchor="start" font-style="italic">a</text>
<text x="286" y="877.4" font-size="39.4" text-anchor="start">/</text>
<text x="298.8" y="877.4" font-size="39.4" text-anchor="start" font-style="italic">L</text>
<text x="321" y="883.6" font-size="27.6" text-anchor="start" font-style="italic">T</text>
<text x="337.8" y="883.6" font-size="27.6" text-anchor="start">,</text>
<text x="350.8" y="883.6" font-size="27.6" text-anchor="start" font-style="italic">i</text>
<g transform="translate(31.2 688.4) rotate(-90)">
<text x="0" y="0" font-size="39.4" text-anchor="start" font-style="italic">Q</text>
<text x="30.8" y="6.2" font-size="27.6" text-anchor="start" font-style="italic">i</text>
<text x="38.4" y="0" font-size="39.4" text-anchor="start">/</text>
<text x="50.6" y="0" font-size="39.4" text-anchor="start" font-style="italic">Q</text>
<text x="81.4" y="6.2" font-size="27.6" text-anchor="start" font-style="italic">GB</text>
</g>
<line x1="724" y1="463.4" x2="724" y2="790.3" stroke="#b0b0b0" stroke-width="1.6"/>
<line x1="851.45" y1="463.4" x2="851.45" y2="790.3" stroke="#b0b0b0" stroke-width="1.6"/>
<line x1="978.9" y1="463.4" x2="978.9" y2="790.3" stroke="#b0b0b0" stroke-width="1.6"/>
<line x1="618.6" y1="699.49" x2="997.4" y2="699.49" stroke="#b0b0b0" stroke-width="1.6"/>
<line x1="618.6" y1="608.69" x2="997.4" y2="608.69" stroke="#b0b0b0" stroke-width="1.6"/>
<line x1="618.6" y1="517.88" x2="997.4" y2="517.88" stroke="#b0b0b0" stroke-width="1.6"/>
<g clip-path="url(#cc)">
<polygon points="800.5,509.95 809.95,525.35 800.5,540.75 791.05,525.35" fill="#ff0000"/>
<polygon points="637.65,726.7 627.24,734.27 631.21,746.51 644.09,746.51 648.06,734.27" fill="#0000ff"/>
<line x1="800.5" y1="525.35" x2="637.65" y2="737.65" stroke="#000" stroke-width="5.85" stroke-dasharray="21.5 9.33"/>
<polygon points="980.4,526 989.85,541.4 980.4,556.8 970.95,541.4" fill="#ffa500"/>
<polygon points="635.6,739.95 625.19,747.52 629.16,759.76 642.04,759.76 646.01,747.52" fill="#008000"/>
<line x1="980.4" y1="541.4" x2="635.6" y2="750.9" stroke="#000" stroke-width="5.85" stroke-dasharray="21.5 9.33"/>
</g>
<rect x="618.6" y="463.4" width="378.8" height="326.9" fill="none" stroke="#000" stroke-width="3.95"/>
<line x1="724" y1="790.3" x2="724" y2="797.2" stroke="#000" stroke-width="3.95"/>
<text x="724" y="833.6" font-size="39.4" text-anchor="middle">1.6</text>
<line x1="851.45" y1="790.3" x2="851.45" y2="797.2" stroke="#000" stroke-width="3.95"/>
<text x="851.45" y="833.6" font-size="39.4" text-anchor="middle">1.8</text>
<line x1="978.9" y1="790.3" x2="978.9" y2="797.2" stroke="#000" stroke-width="3.95"/>
<text x="978.9" y="833.6" font-size="39.4" text-anchor="middle">2.0</text>
<line x1="611.7" y1="790.3" x2="618.6" y2="790.3" stroke="#000" stroke-width="3.95"/>
<text x="604.8" y="805.4" font-size="39.4" text-anchor="end">0.5</text>
<line x1="611.7" y1="699.49" x2="618.6" y2="699.49" stroke="#000" stroke-width="3.95"/>
<text x="604.8" y="714.59" font-size="39.4" text-anchor="end">1.0</text>
<line x1="611.7" y1="608.69" x2="618.6" y2="608.69" stroke="#000" stroke-width="3.95"/>
<text x="604.8" y="623.79" font-size="39.4" text-anchor="end">1.5</text>
<line x1="611.7" y1="517.88" x2="618.6" y2="517.88" stroke="#000" stroke-width="3.95"/>
<text x="604.8" y="532.98" font-size="39.4" text-anchor="end">2.0</text>
<text x="731.6" y="502.4" font-size="39.4" text-anchor="start" font-style="italic">ρ</text>
<text x="756" y="509.1" font-size="27.6" text-anchor="start" letter-spacing="-0.45">tor</text>
<text x="802.8" y="502.6" font-size="39.4" text-anchor="start">=</text>
<text x="843.2" y="502.6" font-size="39.4" text-anchor="start">0.6</text>
<text x="944" y="502.6" font-size="39.4" text-anchor="start">(c)</text>
<text x="758.8" y="877.4" font-size="39.4" text-anchor="start" font-style="italic">a</text>
<text x="782.4" y="877.4" font-size="39.4" text-anchor="start">/</text>
<text x="795.2" y="877.4" font-size="39.4" text-anchor="start" font-style="italic">L</text>
<text x="817.4" y="883.6" font-size="27.6" text-anchor="start" font-style="italic">T</text>
<text x="834.2" y="883.6" font-size="27.6" text-anchor="start">,</text>
<text x="847.2" y="883.6" font-size="27.6" text-anchor="start" font-style="italic">i</text>
</svg>
</body></html>
